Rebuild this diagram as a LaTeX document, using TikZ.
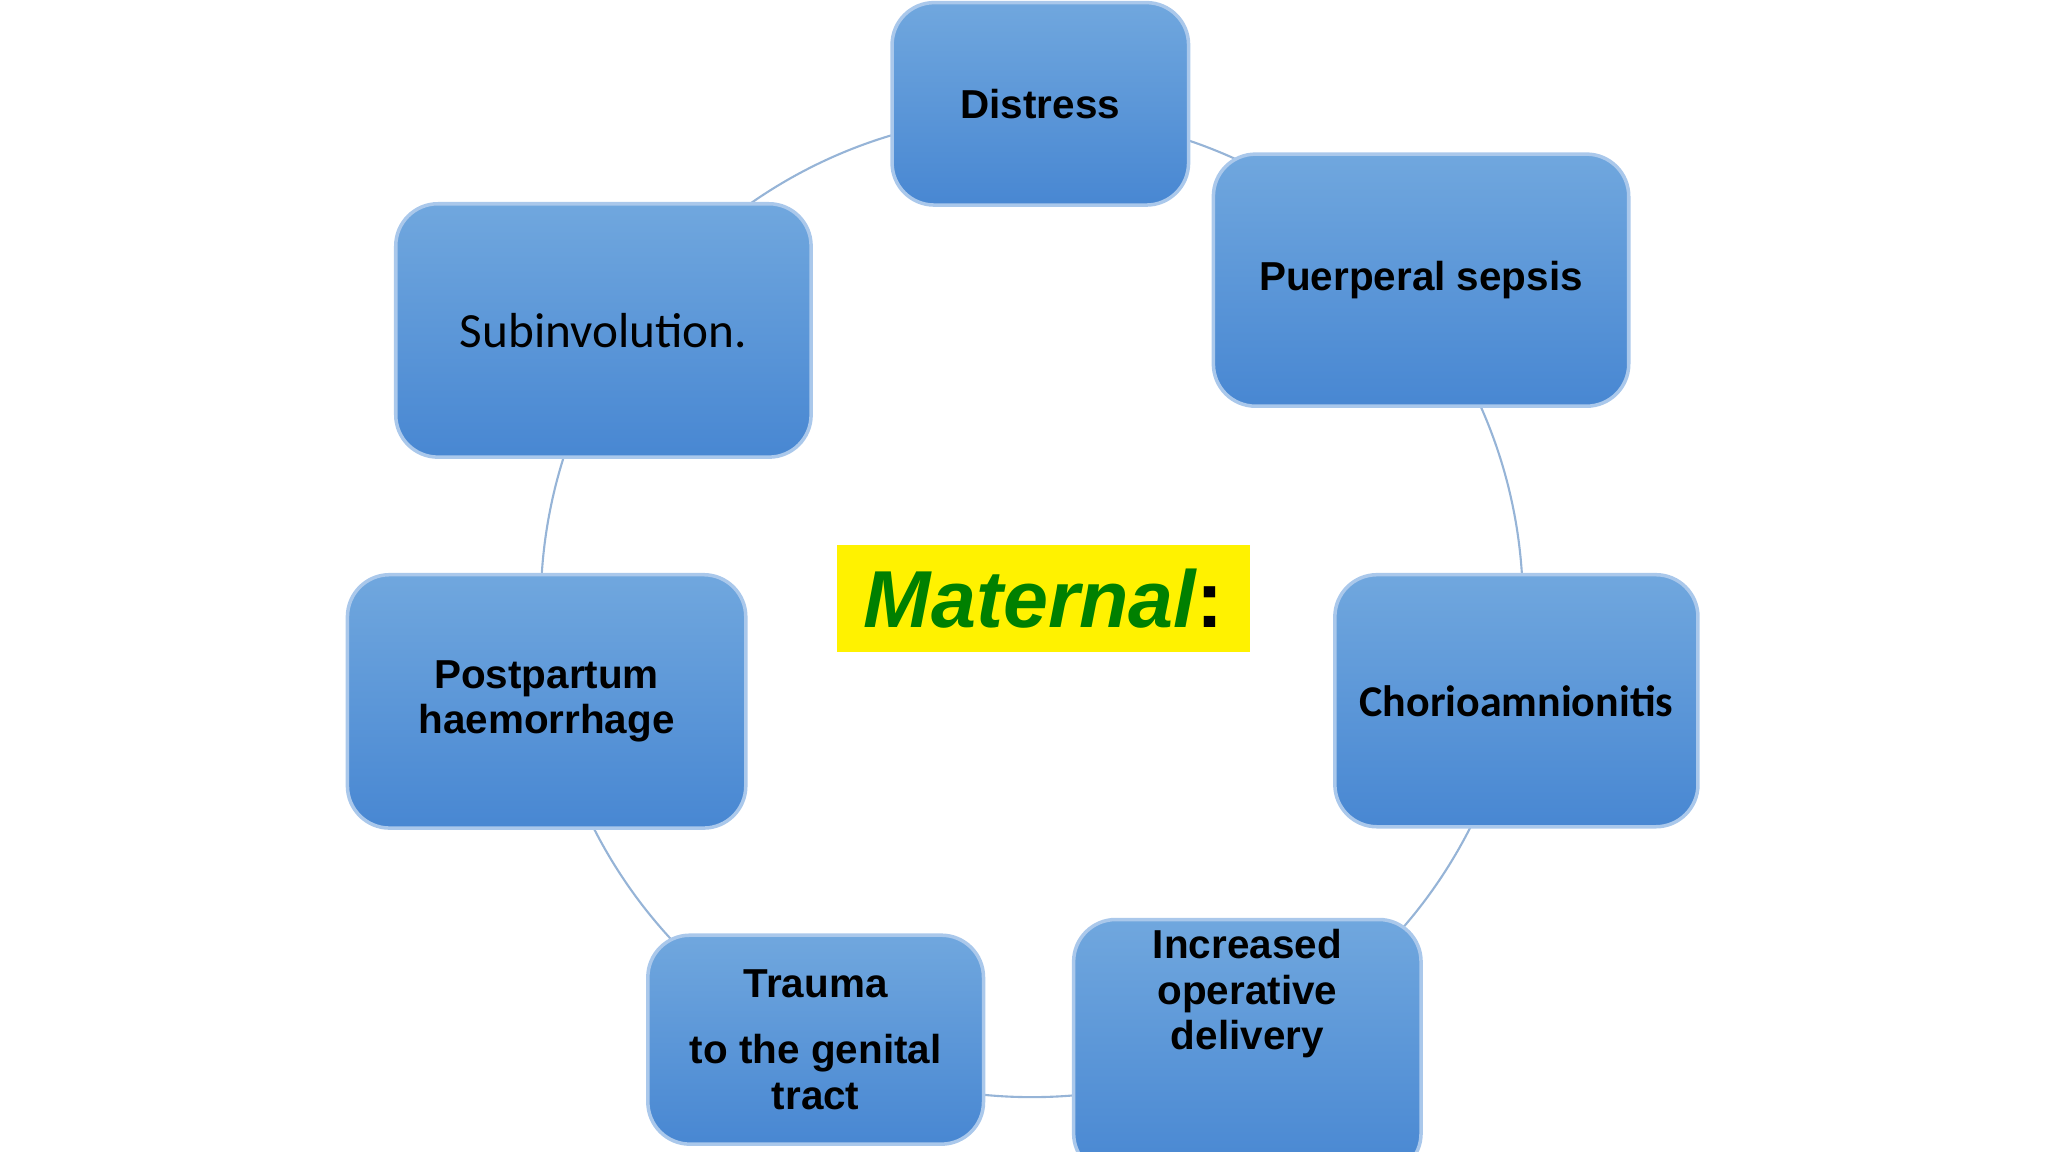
\documentclass[tikz,border=0pt]{standalone}
\usepackage{fontspec}
\setmainfont{Liberation Sans}
\newfontfamily\carl{Carlito}
\definecolor{btop}{RGB}{112,167,222}
\definecolor{bbot}{RGB}{72,135,210}
\definecolor{bdr}{RGB}{170,200,235}
\definecolor{ring}{RGB}{150,180,215}
\definecolor{mgreen}{RGB}{0,128,0}
\begin{document}
\begin{tikzpicture}[x=0.013061cm,y=-0.013061cm,
  box/.style={draw=bdr,line width=1pt,rounded corners=12pt,top color=btop,bottom color=bbot,align=center,font=\bfseries\fontsize{11.5}{13}\selectfont,inner sep=0pt}]
\useasboundingbox (0,0) rectangle (1568,882);
\draw[ring,line width=0.6pt] (790,464) circle (376);
\newcommand{\bx}[6]{\node[box,minimum width={(#3-#1)*0.013061cm},minimum height={(#4-#2)*0.013061cm}] (#5) at ({(#1+#3)/2},{(#2+#4)/2}) {#6};}
\bx{683}{2}{910}{157}{dis}{Distress}
\bx{929}{118}{1247}{311}{pue}{Puerperal sepsis}
\bx{303}{156}{621}{350}{sub}{\carl\mdseries\fontsize{14}{16}\selectfont Subinvolution.}
\bx{1022}{440}{1300}{633}{cho}{\carl\fontsize{12.5}{14}\selectfont Chorioamnionitis}
\bx{266}{440}{571}{634}{pph}{Postpartum\\haemorrhage}
\bx{496}{716}{753}{876}{tra}{Trauma\\[6pt]to the genital\\tract}
\bx{822}{704}{1088}{900}{inc}{Increased\\operative\\delivery\\[20pt]}
\node[fill=yellow,minimum width={316*0.013061cm},minimum height={82*0.013061cm},inner sep=0pt,
  font=\bfseries\fontsize{23}{26}\selectfont] (mat) at (799,458)
  {\textcolor{mgreen}{\itshape Maternal}:};
\end{tikzpicture}
\end{document}
